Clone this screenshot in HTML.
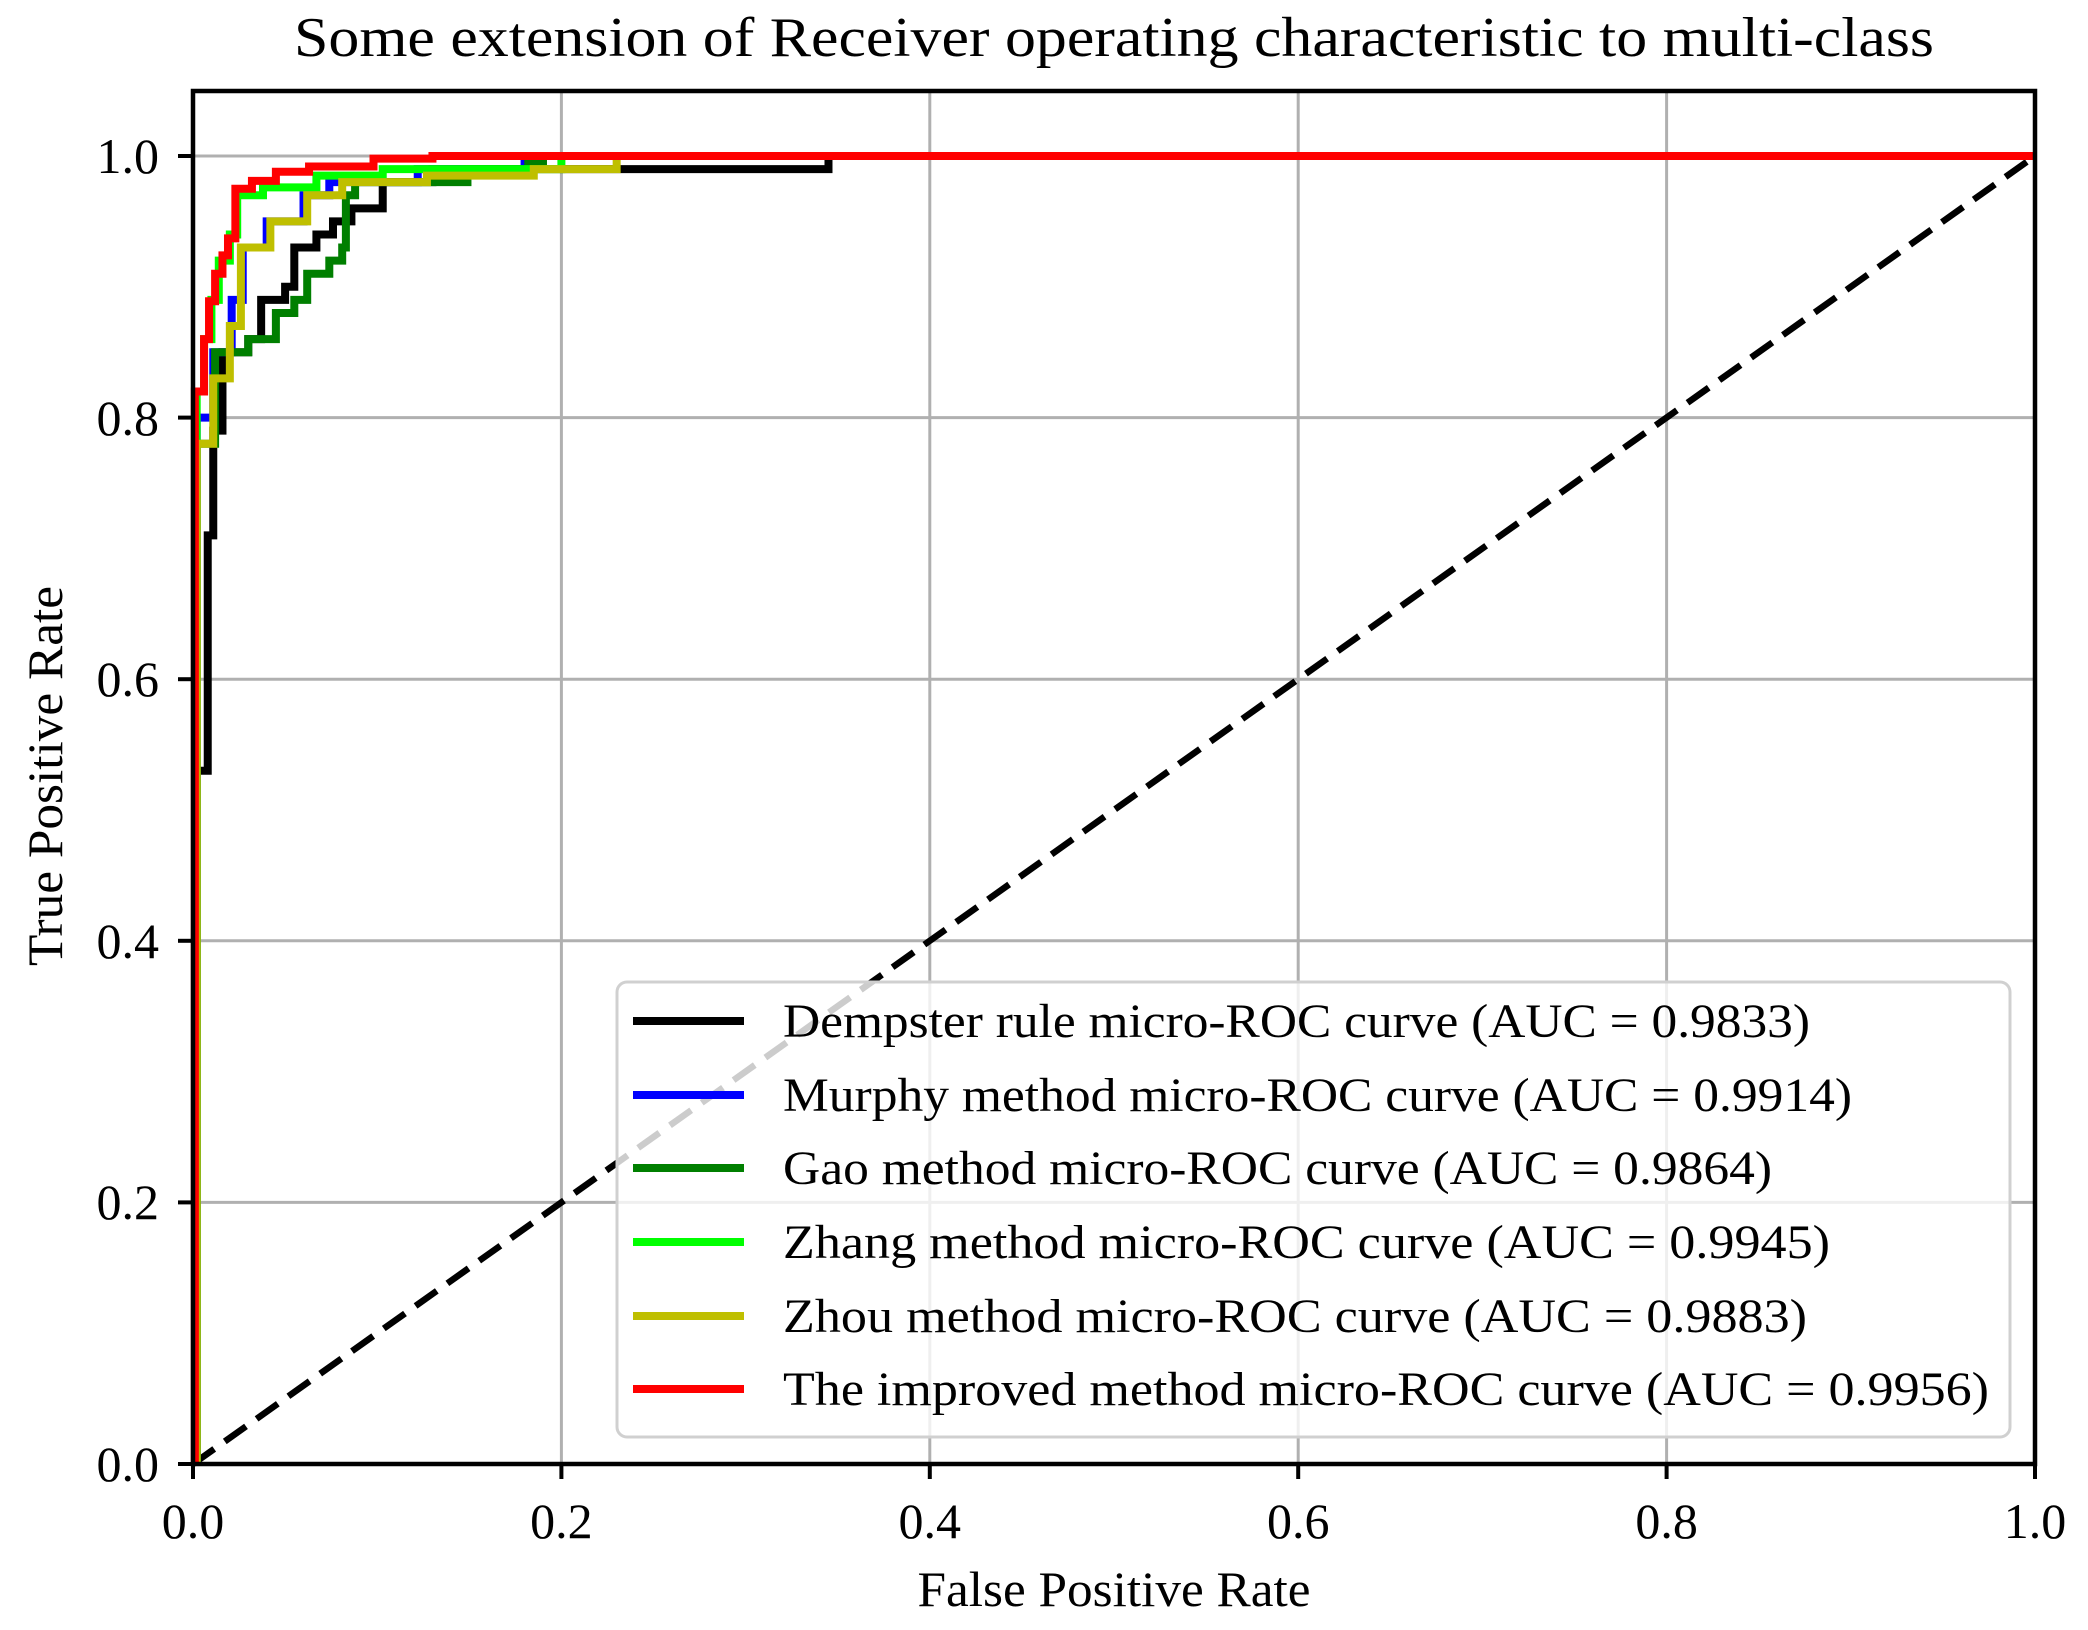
<!DOCTYPE html>
<html><head><meta charset="utf-8"><style>
html,body{margin:0;padding:0;background:#fff}
svg{display:block}
text{font-family:"Liberation Serif",serif;fill:#000}
</style></head><body>
<svg width="2088" height="1630" viewBox="0 0 2088 1630" xmlns="http://www.w3.org/2000/svg">
<rect width="2088" height="1630" fill="#fff"/>
<text x="1114" y="56" font-size="56" text-anchor="middle" textLength="1640" lengthAdjust="spacingAndGlyphs">Some extension of Receiver operating characteristic to multi-class</text>
<g stroke="#b0b0b0" stroke-width="3">
<line x1="561.4" y1="91" x2="561.4" y2="1464"/><line x1="929.8" y1="91" x2="929.8" y2="1464"/>
<line x1="1298.2" y1="91" x2="1298.2" y2="1464"/><line x1="1666.6" y1="91" x2="1666.6" y2="1464"/>
<line x1="193" y1="156" x2="2035" y2="156"/><line x1="193" y1="417.6" x2="2035" y2="417.6"/>
<line x1="193" y1="679.2" x2="2035" y2="679.2"/><line x1="193" y1="940.8" x2="2035" y2="940.8"/>
<line x1="193" y1="1202.4" x2="2035" y2="1202.4"/>
</g>
<line x1="193" y1="1464" x2="2035" y2="156" stroke="#000" stroke-width="6.5" stroke-dasharray="26,13"/>
<g transform="translate(193,1464) scale(1842,-1308)" fill="none" stroke-width="8" stroke-linejoin="miter">
<polyline vector-effect="non-scaling-stroke" stroke="#000" points="0.002,0 0.002,0.53 0.008,0.53 0.008,0.71 0.011,0.71 0.011,0.79 0.016,0.79 0.016,0.85 0.030,0.85 0.030,0.86 0.037,0.86 0.037,0.89 0.050,0.89 0.050,0.90 0.055,0.90 0.055,0.93 0.067,0.93 0.067,0.94 0.076,0.94 0.076,0.95 0.086,0.95 0.086,0.96 0.103,0.96 0.103,0.98 0.13,0.98 0.13,0.99 0.345,0.99 0.345,1 1,1"/>
<polyline vector-effect="non-scaling-stroke" stroke="#0000ff" points="0.002,0 0.002,0.80 0.011,0.80 0.011,0.85 0.021,0.85 0.021,0.89 0.027,0.89 0.027,0.93 0.040,0.93 0.040,0.95 0.060,0.95 0.060,0.97 0.074,0.97 0.074,0.98 0.122,0.98 0.122,0.99 0.18,0.99 0.18,1 1,1"/>
<polyline vector-effect="non-scaling-stroke" stroke="#007f00" points="0.002,0 0.002,0.78 0.012,0.78 0.012,0.85 0.030,0.85 0.030,0.86 0.045,0.86 0.045,0.88 0.055,0.88 0.055,0.89 0.062,0.89 0.062,0.91 0.074,0.91 0.074,0.92 0.081,0.92 0.081,0.93 0.083,0.93 0.083,0.97 0.088,0.97 0.088,0.98 0.149,0.98 0.149,0.99 0.182,0.99 0.182,0.995 0.19,0.995 0.19,1 1,1"/>
<polyline vector-effect="non-scaling-stroke" stroke="#00ff00" points="0.002,0 0.002,0.82 0.006,0.82 0.006,0.86 0.010,0.86 0.010,0.89 0.014,0.89 0.014,0.92 0.020,0.92 0.020,0.94 0.024,0.94 0.024,0.97 0.038,0.97 0.038,0.976 0.067,0.976 0.067,0.985 0.103,0.985 0.103,0.99 0.2,0.99 0.2,1 1,1"/>
<polyline vector-effect="non-scaling-stroke" stroke="#bfbf00" points="0.002,0 0.002,0.78 0.011,0.78 0.011,0.83 0.020,0.83 0.020,0.87 0.026,0.87 0.026,0.93 0.042,0.93 0.042,0.95 0.062,0.95 0.062,0.97 0.081,0.97 0.081,0.98 0.127,0.98 0.127,0.985 0.185,0.985 0.185,0.99 0.23,0.99 0.23,1 1,1"/>
<polyline vector-effect="non-scaling-stroke" stroke="#ff0000" points="0.001,0 0.001,0.82 0.006,0.82 0.006,0.86 0.0087,0.86 0.0087,0.889 0.012,0.889 0.012,0.91 0.016,0.91 0.016,0.924 0.019,0.924 0.019,0.937 0.023,0.937 0.023,0.975 0.032,0.975 0.032,0.981 0.045,0.981 0.045,0.988 0.063,0.988 0.063,0.992 0.098,0.992 0.098,0.998 0.13,0.998 0.13,1 1,1"/>
</g>
<rect x="193" y="91" width="1842" height="1373" fill="none" stroke="#000" stroke-width="4.5"/>
<g stroke="#000" stroke-width="4">
<line x1="193" y1="1464" x2="193" y2="1479"/><line x1="561.4" y1="1464" x2="561.4" y2="1479"/><line x1="929.8" y1="1464" x2="929.8" y2="1479"/><line x1="1298.2" y1="1464" x2="1298.2" y2="1479"/><line x1="1666.6" y1="1464" x2="1666.6" y2="1479"/><line x1="2035" y1="1464" x2="2035" y2="1479"/>
<line x1="178" y1="156" x2="193" y2="156"/><line x1="178" y1="417.6" x2="193" y2="417.6"/><line x1="178" y1="679.2" x2="193" y2="679.2"/><line x1="178" y1="940.8" x2="193" y2="940.8"/><line x1="178" y1="1202.4" x2="193" y2="1202.4"/><line x1="178" y1="1464" x2="193" y2="1464"/>
</g>
<g font-size="50" text-anchor="middle">
<text x="193" y="1538">0.0</text><text x="561.4" y="1538">0.2</text><text x="929.8" y="1538">0.4</text><text x="1298.2" y="1538">0.6</text><text x="1666.6" y="1538">0.8</text><text x="2035" y="1538">1.0</text>
</g>
<g font-size="50" text-anchor="end">
<text x="159" y="173">1.0</text><text x="159" y="435">0.8</text><text x="159" y="696">0.6</text><text x="159" y="958">0.4</text><text x="159" y="1219">0.2</text><text x="159" y="1481">0.0</text>
</g>
<text x="1114" y="1606" font-size="50" text-anchor="middle" textLength="393" lengthAdjust="spacingAndGlyphs">False Positive Rate</text>
<text transform="translate(62,776) rotate(-90)" font-size="50" text-anchor="middle" textLength="380" lengthAdjust="spacingAndGlyphs">True Positive Rate</text>
<rect x="617" y="982" width="1393" height="455" rx="10" fill="#fff" fill-opacity="0.8" stroke="#d0d0d0" stroke-width="3"/>
<g stroke-width="8">
<line x1="633" y1="1021" x2="744" y2="1021" stroke="#000"/>
<line x1="633" y1="1095" x2="744" y2="1095" stroke="#0000ff"/>
<line x1="633" y1="1168" x2="744" y2="1168" stroke="#007f00"/>
<line x1="633" y1="1242" x2="744" y2="1242" stroke="#00ff00"/>
<line x1="633" y1="1316" x2="744" y2="1316" stroke="#bfbf00"/>
<line x1="633" y1="1389" x2="744" y2="1389" stroke="#ff0000"/>
</g>
<g font-size="48">
<text x="783" y="1037" textLength="1027" lengthAdjust="spacingAndGlyphs">Dempster rule micro-ROC curve (AUC = 0.9833)</text>
<text x="783" y="1111" textLength="1069" lengthAdjust="spacingAndGlyphs">Murphy method micro-ROC curve (AUC = 0.9914)</text>
<text x="783" y="1184" textLength="989" lengthAdjust="spacingAndGlyphs">Gao method micro-ROC curve (AUC = 0.9864)</text>
<text x="783" y="1258" textLength="1047" lengthAdjust="spacingAndGlyphs">Zhang method  micro-ROC curve (AUC = 0.9945)</text>
<text x="783" y="1332" textLength="1024" lengthAdjust="spacingAndGlyphs">Zhou method  micro-ROC curve (AUC = 0.9883)</text>
<text x="783" y="1405" textLength="1206" lengthAdjust="spacingAndGlyphs">The improved method  micro-ROC curve (AUC = 0.9956)</text>
</g>
</svg>
</body></html>
